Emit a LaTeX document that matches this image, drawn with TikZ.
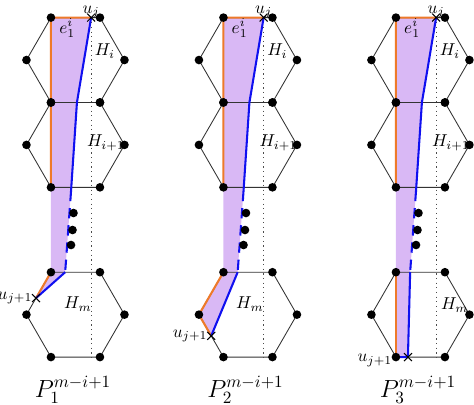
\documentclass[tikz,border=0pt]{standalone}
\usetikzlibrary{calc,shapes.misc}
\definecolor{pathblue}{HTML}{1010F0}
\definecolor{pathorange}{HTML}{EE7A2A}
\definecolor{lavender}{HTML}{D9B8F5}

\begin{document}
\begin{tikzpicture}[
    line join=round,
    hexedge/.style={draw=black!80, line width=0.5pt},
    vdot/.style={circle, fill=black, inner sep=0pt, minimum size=5pt},
    bluepath/.style={pathblue, line width=1.2pt},
    bluedash/.style={bluepath, dash pattern=on 6pt off 4pt},
    orangepath/.style={pathorange, line width=1.2pt},
    guide/.style={black!70, dotted, line width=0.7pt},
    region/.style={fill=lavender},
    ucross/.style={cross out, draw=black, inner sep=0pt, minimum size=4pt, line width=0.6pt},
    caption/.style={font=\Large},
]
    \useasboundingbox (0,0) rectangle (9.673,8.245);

    % --- Coordinates: hexagon vertices and path bends ---
    \foreach \p/\cx in {1/1.54, 2/5.06, 3/8.58} {
        \foreach \h/\cy in {a/7.02, b/5.288, m/1.824}
            \foreach \k in {0,...,5}
                \coordinate (v\p\h\k) at ([shift={(\k*60:1)}] \cx,\cy);
        \coordinate (uj\p) at (\cx+0.32, 7.886);
        \coordinate (ba\p) at (\cx+0.03, 6.154);
        \coordinate (bb\p) at (\cx-0.09, 4.35);
        \coordinate (bm\p) at (\cx-0.21, 2.69);
        \coordinate (gb\p) at (\cx+0.32, 0.958);
    }
    % u_{j+1} on each last hexagon
    \coordinate (uk1) at ($(v1m2)!0.61!(v1m3)$);
    \coordinate (uk2) at ($(v2m3)!0.5!(v2m4)$);
    \coordinate (uk3) at ($(v3m4)!0.245!(v3m5)$);

    % --- Shaded regions ---
    \fill[region] (v1a2) -- (uj1) -- (ba1) -- (bb1) -- (bm1) -- (uk1) -- (v1m2) -- cycle;
    \fill[region] (v2a2) -- (uj2) -- (ba2) -- (bb2) -- (bm2) -- (uk2) -- (v2m3) -- (v2m2) -- cycle;
    \fill[region] (v3a2) -- (uj3) -- (ba3) -- (bb3) -- (bm3) -- (uk3) -- (v3m4) -- cycle;

    % --- Hexagons, guide lines, common part of the paths ---
    \foreach \p in {1,2,3} {
        \foreach \h in {a,b,m}
            \draw[hexedge] (v\p\h0) -- (v\p\h1) -- (v\p\h2) -- (v\p\h3) -- (v\p\h4) -- (v\p\h5) -- cycle;
        \draw[guide] (uj\p) -- (gb\p);
        \draw[orangepath] (uj\p) -- (v\p a2) -- (v\p b4);
        \draw[bluepath] (uj\p) -- (ba\p) -- (bb\p);
        \draw[bluedash] (bb\p) -- (bm\p);
    }

    % --- Ends of the paths in H_m ---
    \draw[orangepath] (v1m2) -- (uk1);
    \draw[bluepath] (bm1) -- (uk1);
    \draw[orangepath] (v2m2) -- (v2m3) -- (uk2);
    \draw[bluepath] (bm2) -- (uk2);
    \draw[orangepath] (v3m2) -- (v3m4);
    \draw[bluepath] (bm3) -- (uk3) -- (v3m4);

    % --- Vertices, dots and labels ---
    \foreach \p/\cx in {1/1.54, 2/5.06, 3/8.58} {
        \foreach \h in {a,b,m}
            \foreach \k in {0,...,5}
                \node[vdot] (d\p\h\k) at (v\p\h\k) {};
        \node[vdot] (e\p a) at (\cx-0.04, 3.898) {};
        \node[vdot] (e\p b) at (\cx-0.06, 3.551) {};
        \node[vdot] (e\p c) at (\cx-0.09, 3.245) {};
        \node[ucross] (xj\p) at (uj\p) {};
        \node[ucross] (xk\p) at (uk\p) {};
        \node[above, inner sep=0pt, yshift=-0.5pt] (lj\p) at (uj\p) {$u_j$};
        \node (le\p) at (\cx-0.17, 7.67) {$e_1^i$};
        \node (lh\p) at (\cx+0.6, 7.2) {$H_i$};
        \node (lhh\p) at (\cx+0.62, 5.33) {$H_{i+1}$};
        \node[caption] (cap\p) at (\cx-0.05, 0.29) {$P_{\p}^{m-i+1}$};
    }
    \node (hm1) at (1.59, 2.04) {$H_m$};
    \node (hm2) at (5.10, 2.04) {$H_m$};
    \node (hm3) at (9.28, 2.02) {$H_m$};
    \node[left, inner sep=2pt] (lk1) at (uk1) {$u_{j+1}$};
    \node[left, inner sep=2pt] (lk2) at (uk2) {$u_{j+1}$};
    \node[left, inner sep=2pt, yshift=-2pt] (lk3) at (v3m4) {$u_{j+1}$};

\end{tikzpicture}
\end{document}
